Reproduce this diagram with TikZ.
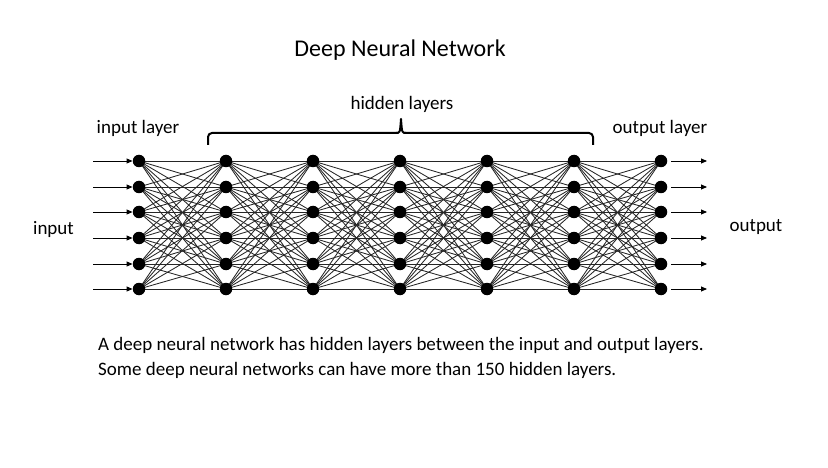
\documentclass[tikz,border=0pt]{standalone}
\usepackage{fontspec}
\setmainfont{Carlito}
\usetikzlibrary{arrows.meta}
\begin{document}
\begin{tikzpicture}[x=1pt,y=-1pt,
  neuron/.style={circle,fill=black,inner sep=0pt,minimum size=12.5pt},
  edge/.style={black!85,line width=0.85pt},
  inarrow/.style={-{Triangle[length=6pt,width=5pt]},line width=0.9pt},
  lbl/.style={font=\fontsize{19}{23}\selectfont,inner sep=0pt,anchor=base},
  brace/.style={line width=2pt,rounded corners=4pt}]
\useasboundingbox (0,0) rectangle (828,468);
% edges first
\foreach \l/\x in {1/139,2/226,3/313,4/400,5/487,6/574,7/661}{
  \foreach \r/\y in {1/161,2/187,3/212,4/238,5/264,6/289}{
    \coordinate (c\l-\r) at (\x,\y);
  }
}
\foreach \l [evaluate=\l as \m using int(\l+1)] in {1,...,6}{
  \foreach \a in {1,...,6}{
    \foreach \b in {1,...,6}{
      \draw[edge] (c\l-\a) -- (c\m-\b);
    }
  }
}
% neurons
\foreach \l in {1,...,7}{
  \foreach \r in {1,...,6}{
    \node[neuron] (n\l-\r) at (c\l-\r) {};
  }
}
% input / output arrows
\foreach \r in {1,...,6}{
  \coordinate (ia\r) at ([xshift=-46pt]n1-\r.center);
  \draw[inarrow] (ia\r) -- (n1-\r.west);
  \coordinate (ob\r) at ([xshift=46pt]n7-\r.center);
  \draw[inarrow] ([xshift=4pt]n7-\r.east) -- (ob\r);
}
% brace
\draw[brace] (208,145) -- (208,133) -- (398,133);
\draw[brace] (593,145) -- (593,133) -- (404,133);
\draw[line width=2pt,line join=round] (396,133) .. controls (400,133) .. (401,119) .. controls (402,133) .. (406,133);
% texts
\node[font=\fontsize{24}{28}\selectfont,inner sep=0pt,anchor=base] (title) at (400,56.5) {Deep Neural Network};
\node[lbl] (hl) at (402,110) {hidden layers};
\node[lbl] (il) at (138,134) {input layer};
\node[lbl] (ol) at (660,133.5) {output layer};
\node[lbl] (inp) at (53.5,234) {input};
\node[lbl] (outp) at (756,231.5) {output};
\node[lbl,anchor=base west] (cap1) at (98,350.7)
  {A deep neural network has hidden layers between the input and output layers.};
\node[lbl,anchor=base west] (cap2) at (98,375.7)
  {Some deep neural networks can have more than 150 hidden layers.};
\end{tikzpicture}
\end{document}
